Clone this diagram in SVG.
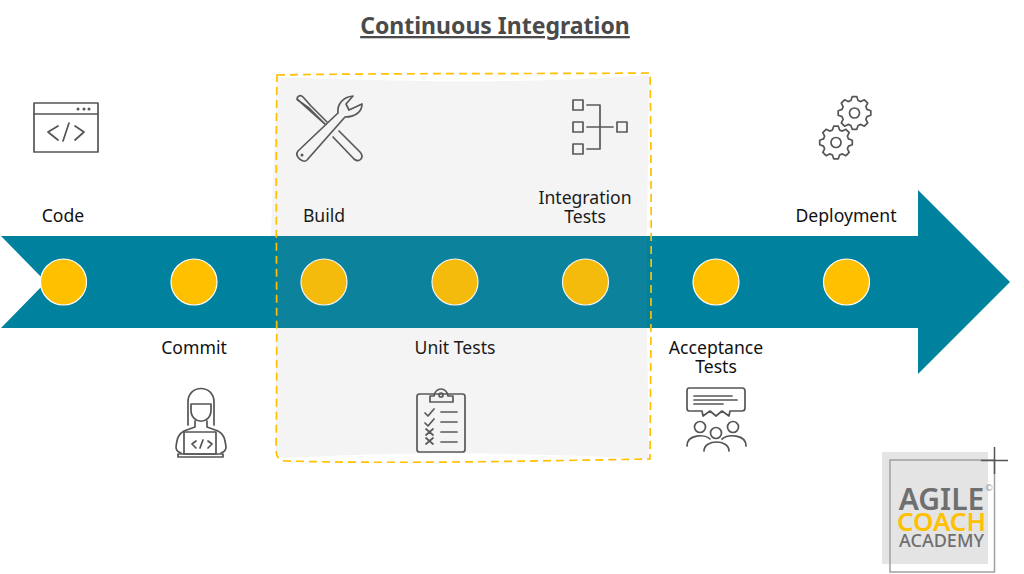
<svg xmlns="http://www.w3.org/2000/svg" width="1024" height="574" viewBox="0 0 1024 574">
<style>
text{font-family:"Noto Sans","DejaVu Sans",sans-serif;fill:#111;font-size:17.600px;text-anchor:middle}
.i{fill:none;stroke:#555;stroke-width:1.7;stroke-linecap:round;stroke-linejoin:round}
.d{fill:#FFC000;stroke:#fff;stroke-width:1.200}
</style>
<defs>
<path id="gear" d="M12.500 -3.600L16.300 -2.300L16.300 2.300L12.500 3.600L11.400 6.300L13.200 9.900L9.900 13.200L6.300 11.400L3.600 12.500L2.300 16.300L-2.300 16.300L-3.600 12.500L-6.300 11.400L-9.900 13.200L-13.200 9.900L-11.400 6.300L-12.500 3.600L-16.300 2.300L-16.300 -2.300L-12.500 -3.600L-11.400 -6.300L-13.200 -9.900L-9.900 -13.200L-6.300 -11.400L-3.600 -12.500L-2.300 -16.300L2.300 -16.300L3.600 -12.500L6.300 -11.400L9.900 -13.200L13.200 -9.900L11.400 -6.300Z"/>
</defs>
<rect width="1024" height="574" fill="#fff"/>
<text id="title" x="495" y="34" style="font-size:23px;font-weight:700;fill:#4a4a4a;text-decoration:underline">Continuous Integration</text>
<g id="connectors"><path id="timeline-arrow" d="M1 236H918V190L1010 282L918 374V328H1L46 282Z" fill="#00829F"/></g>
<g id="node-code">
<circle class="d" cx="63.500" cy="282" r="23"/><text x="63" y="221.500">Code</text>
<g class="i"><rect x="34" y="103" width="64" height="49"/><path d="M34 114H98M58 126L48 132L58 140M75 126L84 132L75 140M69 123L63 141"/></g>
<circle cx="78" cy="109" r="1.500" fill="#555"/><circle cx="84" cy="109" r="1.500" fill="#555"/><circle cx="89" cy="109" r="1.500" fill="#555"/>
</g>
<g id="node-commit">
<circle class="d" cx="194" cy="282" r="23"/><text x="194" y="353.500">Commit</text>
<g class="i"><path d="M188 425V402C188 384 214 384 214 402V425M191 404H211V410C211 425 191 425 191 410ZM195 421V427L184 431C178 434 177 439 176 447C176 450 178 452 181 453M207 421V427L218 431C224 434 225 439 226 447C226 450 224 452 221 453"/><rect x="184" y="432" width="32" height="22"/><path d="M178 454H223V457H178ZM196 441L192 444L196 448M208 441L212 444L208 448M203 440L200 448"/></g>
</g>
<g id="node-build">
<circle class="d" cx="324" cy="282" r="23"/><text x="324" y="221.500">Build</text>
<g class="i"><path d="M297 99Q297 97 299 96Q301 95 303 97L311 106L327 122M325 124L309 108L299 101Q297 100 297 99ZM339 131L360 152C365 158 359 163 354 159L333 137"/>
<path d="M298 151L338 113C337 104 343 97 353 96L346 104L349 110L362 104C362 112 355 117 345 117L307 160C303 164 294 156 298 151Z"/></g>
<circle cx="302" cy="155" r="1.500" fill="#555"/>
</g>
<g id="node-unit-tests">
<circle class="d" cx="455" cy="282" r="23"/><text x="455" y="353.500">Unit Tests</text>
<g class="i"><rect x="417" y="394" width="48" height="58" rx="2.500"/><path d="M430 402H453V396H448C447 391 445 389 441 389C437 389 435 391 434 396H430Z"/><circle cx="441" cy="395" r="2"/><path d="M425 413L428 416L434 409M425 423L428 426L434 419M426 429L433 435M433 429L426 435M426 438L433 444M433 438L426 444M441 412H457M441 422H457M441 432H457M441 442H457"/></g>
</g>
<g id="node-integration-tests">
<circle class="d" cx="585.500" cy="282" r="23"/><text x="585" y="203.500">Integration<tspan x="585" y="222.500">Tests</tspan></text>
<g class="i"><rect x="573" y="100" width="10" height="10"/><rect x="573" y="122" width="10" height="10"/><rect x="573" y="144" width="10" height="10"/><rect x="617" y="122" width="10" height="10"/><path d="M587 105H600V149H587M587 127H613"/></g>
</g>
<g id="node-acceptance-tests">
<circle class="d" cx="716" cy="282" r="23"/><text x="716" y="353.500">Acceptance<tspan x="716" y="372.500">Tests</tspan></text>
<g class="i"><path d="M689 388H742Q745 388 745 391V408Q745 411 742 411H730L729 416L722 411L716 416L710 411L703 416L702 411H689Q687 411 687 408V391Q687 388 689 388ZM694 396H732M694 400H737M694 404H723"/><circle cx="700" cy="427" r="5.500"/><circle cx="716" cy="433" r="5.500"/><circle cx="733" cy="427" r="5.500"/><path d="M687 446C687 434 705 434 710 439M722 439C728 434 746 434 746 446M704 451C704 439 729 439 729 451"/></g>
</g>
<g id="node-deployment">
<circle class="d" cx="846.500" cy="282" r="23"/><text x="846" y="221.500">Deployment</text>
<g class="i"><circle cx="854.500" cy="113" r="5"/><circle cx="836" cy="142.500" r="5"/>
<use href="#gear" x="854.500" y="113"/><use href="#gear" x="836" y="142.500"/></g>
</g>
<path id="ci-zone" d="M277 77C400 82 540 84 649 75L647 236V328L649 459C520 452 400 452 285 458Q276 458 276 450V328H278V236H271C273 180 275 130 277 77Z" fill="#808080" fill-opacity=".09"/>
<path id="ci-border" d="M277 75C400 73 520 74 650 73C652 200 651 330 650 459C530 461 400 464 285 461Q276 460 276 450C278 320 275 200 277 75Z" fill="none" stroke="#FFC000" stroke-width="1.700" stroke-dasharray="8 5"/>
<g id="logo">
<rect x="882" y="452" width="106" height="112" fill="#e4e4e4"/>
<rect x="890" y="460" width="104.500" height="112" fill="none" stroke="#a0a0a0" stroke-width="1.500"/>
<path d="M981 460.500H1008M994.500 447V474" stroke="#555" stroke-width="1.500" fill="none"/>
<text x="941.500" y="510" style="font-size:30px;font-weight:600;fill:#6f6f6f">AGILE<tspan x="941.500" y="531" style="font-size:26px;fill:#FFC000">COACH</tspan><tspan x="941.500" y="547" style="font-size:18px;font-weight:500;fill:#6f6f6f">ACADEMY</tspan></text>
<text x="989" y="491" style="font-size:9px;fill:#999">©</text>
</g>
</svg>
